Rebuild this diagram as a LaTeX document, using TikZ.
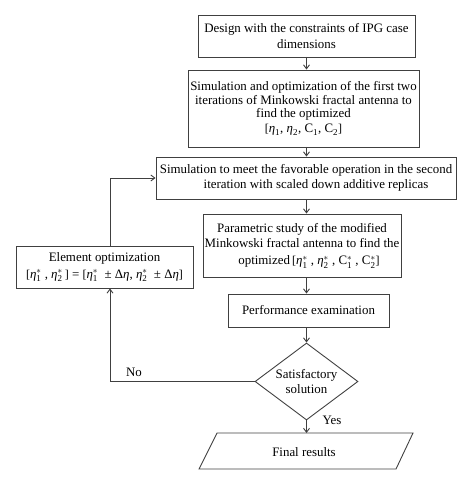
\documentclass[tikz,border=0pt]{standalone}
\usepackage{fontspec}
\setmainfont{Liberation Serif}
\usetikzlibrary{shapes.geometric,arrows.meta,calc}
\newcommand\Et[2]{\textit{η}$_{\mathrm{#1}}^{#2}$}
\newcommand\Ct[2]{C$_{\mathrm{#1}}^{#2}$}
\begin{document}
\begin{tikzpicture}[x=1pt,y=-1pt,
  line width=0.9pt,
  every node/.style={font=\fontsize{12.9}{13.4}\selectfont, text=black},
  box/.style={draw=black!75, rectangle, inner sep=0pt, align=center},
  arr/.style={draw=black!75, -{Straight Barb[length=4pt,width=6pt]}},
  ln/.style={draw=black!75}]
\useasboundingbox (0,0) rectangle (474,486);
\node[box, minimum width=217pt, minimum height=42pt] (b1) at (306.5,36)
  {Design with the constraints of IPG case\\[3pt]dimensions};
\node[box, minimum width=231pt, minimum height=77pt] (b2) at (303.5,108.5)
  {Simulation and optimization of the first two\\iterations of Minkowski fractal antenna to\\find the optimized\\[1pt]{\large[}\Et{1}{}, \Et{2}{}, \Ct{1}{}, \Ct{2}{}{\large]}};
\node[box, minimum width=300pt, minimum height=42pt] (b3) at (306,178)
  {Simulation to meet the favorable operation in the second\\[2pt]\hspace*{20pt}iteration with scaled down additive replicas};
\node[box, minimum width=198pt, minimum height=63pt] (b4) at (302,245.5)
  {Parametric study of the modified\\[2pt]Minkowski fractal antenna to find the\\[4pt]\hspace*{14pt}optimized\,{\large[}\Et{1}{*}\ , \Et{2}{*}\ , \Ct{1}{*}\ , \Ct{2}{*}{\large]}};
\node[box, minimum width=177pt, minimum height=42pt] (el) at (104.5,267)
  {Element optimization\\[3pt]{\large[}\Et{1}{*}\ , \Et{2}{*}\,{\large]} = {\large[}\Et{1}{*}\ \ ± Δ\textit{η}, \Et{2}{*}\ \ ± Δ\textit{η}{\large]}};
\node[box, minimum width=161pt, minimum height=33pt] (pe) at (308.5,310.5)
  {Performance examination};
\node[draw=black!75, diamond, inner sep=0pt, minimum width=103pt, minimum height=77pt] (dec) at (306.5,381.5) {};
\node[align=center] (dect) at (dec.center) {Satisfactory\\[2pt]solution};
\node (fin) at (304,452) {Final results};
\draw[ln] (199,469) -- (217,433) -- (413,433) -- (396,469) -- cycle;
\coordinate (fintop) at (306.5,433);
\coordinate (fbx) at (110,0);
\draw[arr] (306.5,57) coordinate (a1) -- (a1 |- b2.north);
\draw[arr] (306.5,147) coordinate (a2) -- (a2 |- b3.north);
\draw[arr] (306.5,199) coordinate (a3) -- (a3 |- b4.north);
\draw[arr] (306.5,277) coordinate (a4) -- (a4 |- pe.north);
\draw[arr] (pe.south -| dec.north) -- (dec.north);
\draw[arr] (dec.south) -- (fintop);
\draw[arr] (dec.west) -| (fbx |- el.south);
\draw[arr] (fbx |- el.north) |- (b3.west);
\node (no) at (134,372) {No};
\node (yes) at (332,420) {Yes};
\end{tikzpicture}
\end{document}
